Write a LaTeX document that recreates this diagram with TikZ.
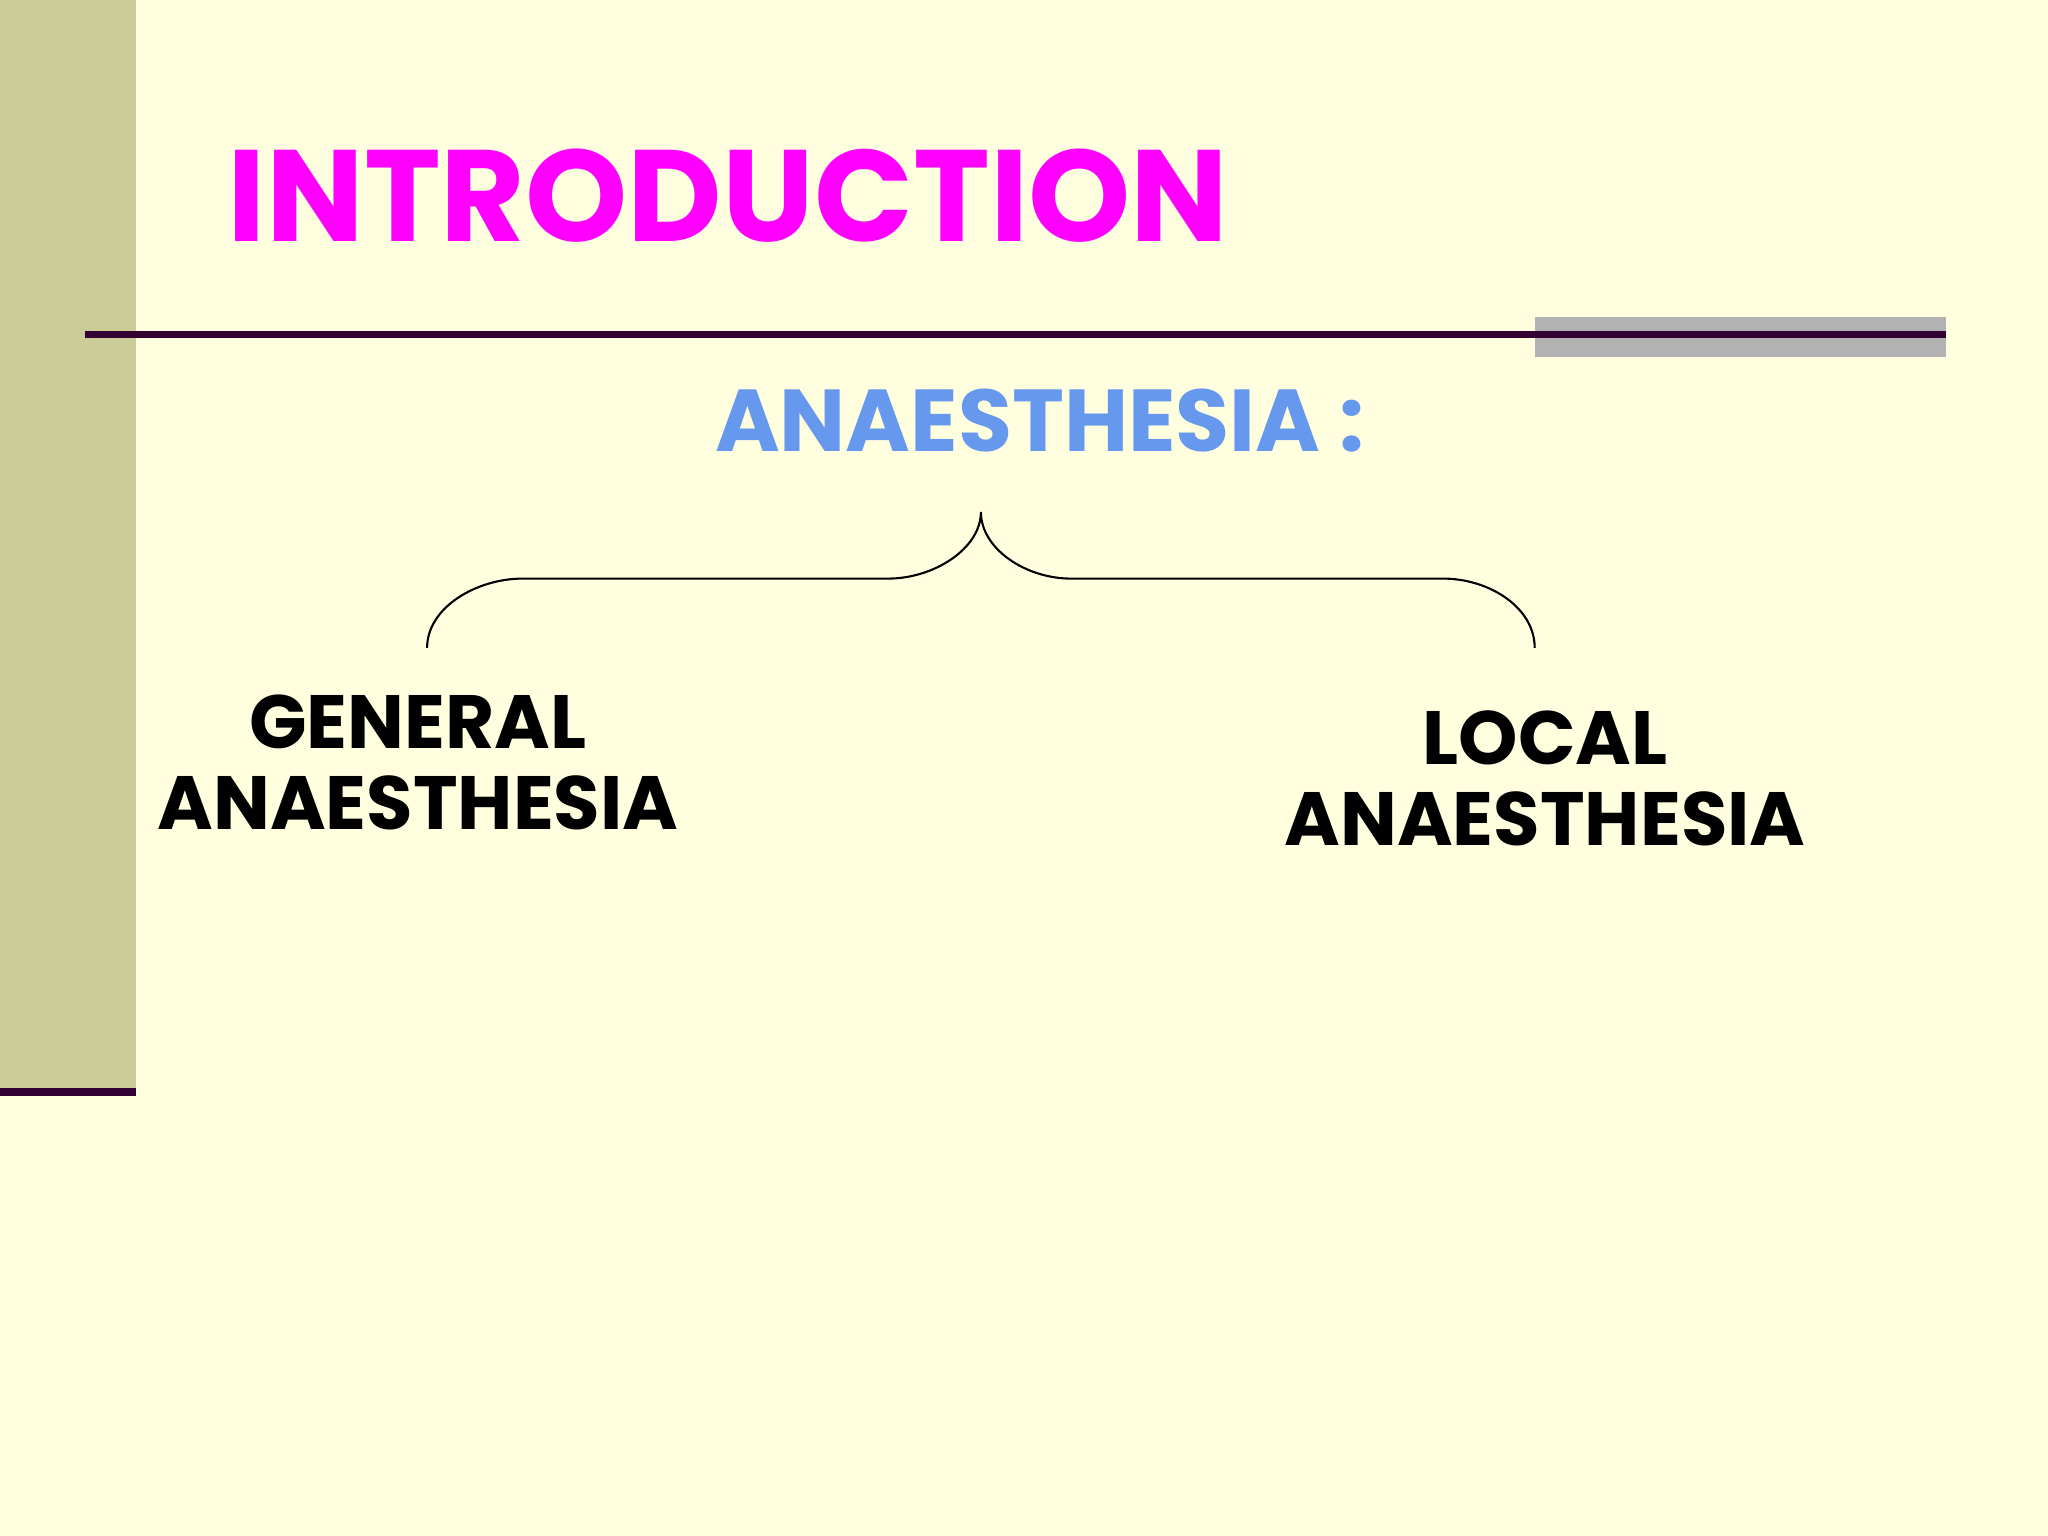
\documentclass[tikz,border=0pt]{standalone}
\usepackage{fontspec}
\setmainfont{Poppins}
\definecolor{bg}{RGB}{255,255,224}
\definecolor{band}{RGB}{204,204,153}
\definecolor{dk}{RGB}{51,0,51}
\definecolor{mag}{RGB}{255,0,255}
\definecolor{blu}{RGB}{102,153,238}
\begin{document}
\begin{tikzpicture}[x=0.013061cm,y=-0.013061cm,
  lbl/.style={font=\fontsize{21.5}{26}\selectfont\bfseries,align=center,text=black,inner sep=0}]
\fill[bg] (0,0) rectangle (1568,1176);
\useasboundingbox (0,0) rectangle (1568,1176);
\fill[band] (0,0) rectangle (104,833);
\fill[dk] (0,833) rectangle (104,839);
\fill[black!30] (1175,243) rectangle (1490,273);
\draw[dk,line width=1.8pt] (65,256) -- (1490,256);
\node[anchor=west,text=mag,inner sep=0,font=\fontsize{37}{40}\selectfont\bfseries] (title) at (174,150) {INTRODUCTION};
\node[text=blu,inner sep=0,font=\fontsize{25}{28}\selectfont\bfseries] (ana) at (796,322) {ANAESTHESIA :};
\coordinate (top) at (751,392);
\coordinate (l) at (327,496);
\coordinate (r) at (1175,496);
\draw[line width=0.6pt] (l) .. controls (327,465) and (365,443) .. (400,443) -- (680,443) .. controls (715,443) and (751,420) .. (top)
  .. controls (751,420) and (785,443) .. (820,443) -- (1105,443) .. controls (1140,443) and (1175,465) .. (r);
\node[lbl] (ga) at (320,584) {GENERAL\\[-3pt]ANAESTHESIA};
\node[lbl] (la) at (1183,596) {LOCAL\\[-3pt]ANAESTHESIA};
\end{tikzpicture}
\end{document}
